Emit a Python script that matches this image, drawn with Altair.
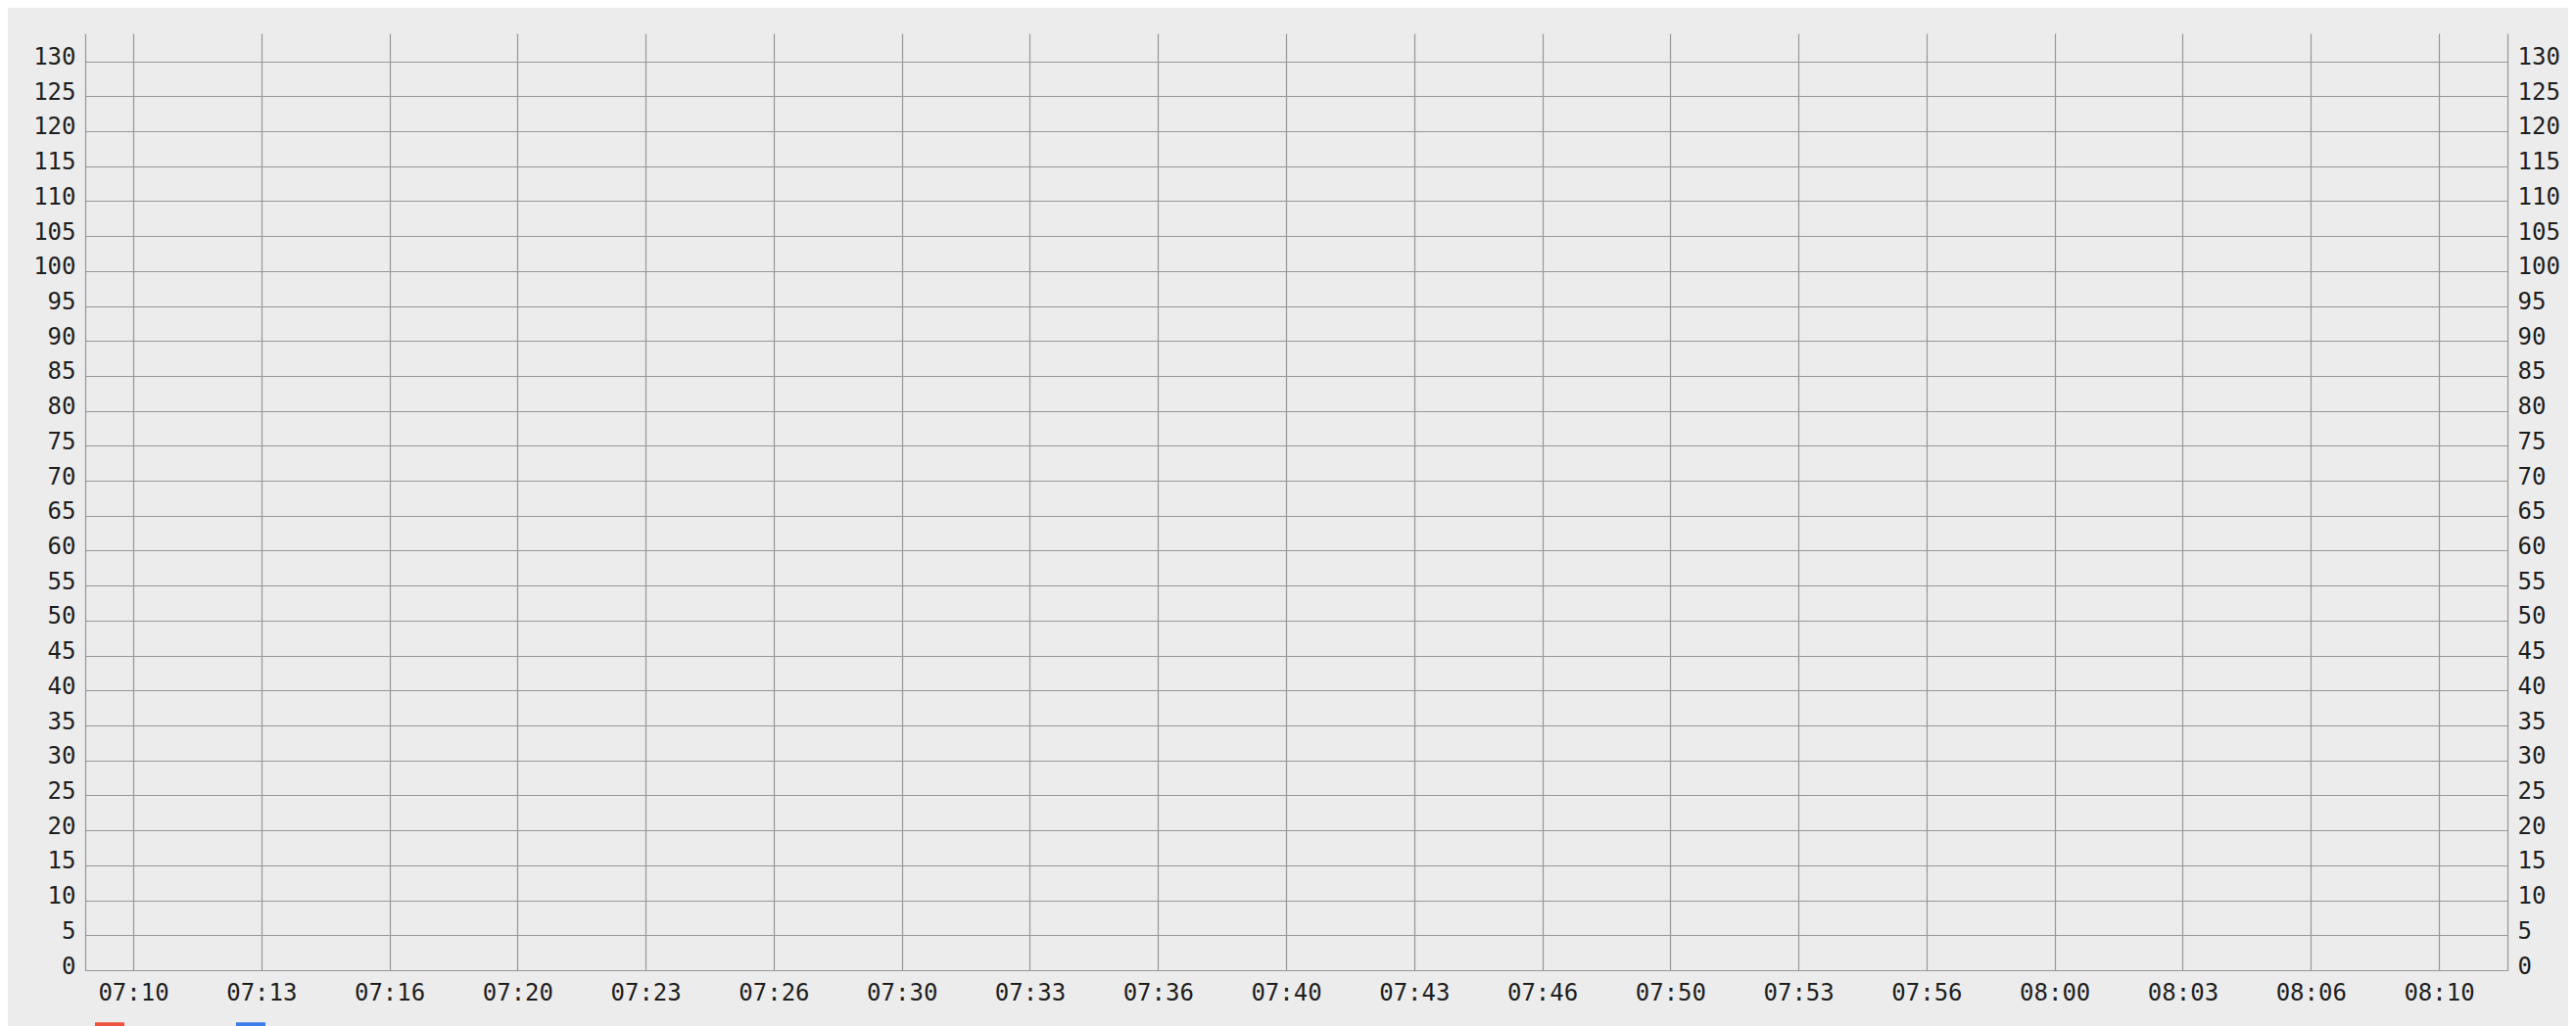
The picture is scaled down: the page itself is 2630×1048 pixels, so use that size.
import altair as alt
import pandas as pd

# ---- data -------------------------------------------------------------
series_names = ["Input", "Output"]
series_colors = ["#ee5340", "#3b7de9"]

# sample times (no values recorded in the window -> empty series)
sample_times = ["07:08:45", "07:40:00", "08:11:47"]
input_values = [None, None, None]
output_values = [None, None, None]

x_domain_times = ["07:08:45", "08:11:47"]
tick_times = ["07:10:00", "07:13:20", "07:16:40", "07:20:00", "07:23:20",
              "07:26:40", "07:30:00", "07:33:20", "07:36:40", "07:40:00",
              "07:43:20", "07:46:40", "07:50:00", "07:53:20", "07:56:40",
              "08:00:00", "08:03:20", "08:06:40", "08:10:00"]
y_ticks = [0, 5, 10, 15, 20, 25, 30, 35, 40, 45, 50, 55, 60, 65,
           70, 75, 80, 85, 90, 95, 100, 105, 110, 115, 120, 125, 130]
y_domain = [0, 134]

DAY = "2024-01-01 "


def ms(t):
    return int(pd.Timestamp(DAY + t, tz="UTC").value // 10**6)


rows = []
for name, vals in zip(series_names, [input_values, output_values]):
    for t, v in zip(sample_times, vals):
        rows.append({"t": ms(t), "s": name, "v": v})
df = pd.DataFrame(rows)
df["v"] = df["v"].astype("float")

FONT = "DejaVu Sans Mono"
GRID = "#979797"
TEXT = "#1e1e1e"

x_enc = alt.X(
    "t:T",
    title=None,
    scale=alt.Scale(type="utc", domain=[ms(t) for t in x_domain_times]),
    axis=alt.Axis(
        values=[ms(t) for t in tick_times],
        labelExpr="utcFormat(datum.value, '%H:%M')",
        grid=True,
        ticks=False,
        labelPadding=11,
        labelFlush=False,
        labelOverlap=False,
    ),
)

# line legend symbols are stroked: a 15px square with a 15px stroke
# renders as a solid 30px square
color_enc = alt.Color(
    "s:N",
    scale=alt.Scale(domain=series_names, range=series_colors),
    legend=alt.Legend(
        title=None,
        orient="none",
        legendX=10,
        legendY=1010,
        direction="horizontal",
        symbolType="square",
        symbolSize=225,
        symbolStrokeWidth=15,
        symbolOpacity=1,
        labelFont=FONT,
        labelFontSize=24,
        labelColor=TEXT,
        labelBaseline="top",
        padding=0,
        columnPadding=14,
    ),
)

y_scale = alt.Scale(domain=y_domain, nice=False, zero=True)

left = alt.Chart(df).mark_line().encode(
    x=x_enc,
    y=alt.Y("v:Q", title=None, scale=y_scale,
            axis=alt.Axis(orient="left", values=y_ticks, grid=True,
                          ticks=False, labelPadding=10,
                          labelBaseline="alphabetic", labelOffset=3,
                          labelOverlap=False, labelFlush=False)),
    color=color_enc,
)

right = alt.Chart(df).mark_line().encode(
    x=x_enc,
    y=alt.Y("v:Q", title=None, scale=y_scale,
            axis=alt.Axis(orient="right", values=y_ticks, grid=False,
                          ticks=False, labelPadding=10,
                          labelBaseline="alphabetic", labelOffset=3,
                          labelOverlap=False, labelFlush=False)),
    color=color_enc,
)

chart = (
    alt.layer(left, right)
    .resolve_axis(y="independent")
    .properties(
        width=2473,
        height=957,
        autosize=alt.AutoSizeParams(type="none"),
        padding={"left": 79, "top": 26, "right": 62, "bottom": 90},
        background="#ececec",
    )
    .configure_view(stroke=None, fill="#ececec")
    .configure_axis(
        labelFont=FONT,
        labelFontSize=24,
        labelColor=TEXT,
        gridColor=GRID,
        gridWidth=1.2,
        gridOpacity=1,
        domainColor=GRID,
        domainWidth=1.2,
    )
)

chart.save("out.html", embed_options={"renderer": "svg", "actions": False})
